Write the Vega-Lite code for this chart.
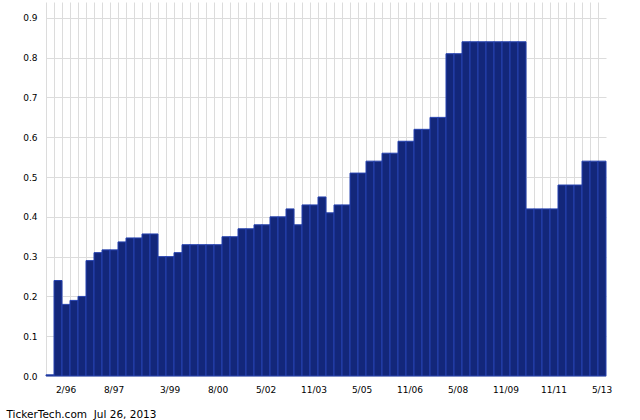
{
  "$schema": "https://vega.github.io/schema/vega-lite/v6.json",
  "width": 560,
  "height": 374,
  "autosize": {"type": "none"},
  "padding": {"left": 46, "top": 2, "right": 34, "bottom": 44},
  "background": "white",
  "config": {"view": {"stroke": null}, "font": "DejaVu Sans"},
  "data": {"values": [
    {"i": 0, "v": 0.003}, {"i": 1, "v": 0.24}, {"i": 2, "v": 0.18}, {"i": 3, "v": 0.19},
    {"i": 4, "v": 0.20}, {"i": 5, "v": 0.29}, {"i": 6, "v": 0.31}, {"i": 7, "v": 0.317},
    {"i": 8, "v": 0.317}, {"i": 9, "v": 0.337}, {"i": 10, "v": 0.347}, {"i": 11, "v": 0.347},
    {"i": 12, "v": 0.357}, {"i": 13, "v": 0.357}, {"i": 14, "v": 0.30}, {"i": 15, "v": 0.30},
    {"i": 16, "v": 0.31}, {"i": 17, "v": 0.33}, {"i": 18, "v": 0.33}, {"i": 19, "v": 0.33},
    {"i": 20, "v": 0.33}, {"i": 21, "v": 0.33}, {"i": 22, "v": 0.35}, {"i": 23, "v": 0.35},
    {"i": 24, "v": 0.37}, {"i": 25, "v": 0.37}, {"i": 26, "v": 0.38}, {"i": 27, "v": 0.38},
    {"i": 28, "v": 0.40}, {"i": 29, "v": 0.40}, {"i": 30, "v": 0.42}, {"i": 31, "v": 0.38},
    {"i": 32, "v": 0.43}, {"i": 33, "v": 0.43}, {"i": 34, "v": 0.45}, {"i": 35, "v": 0.41},
    {"i": 36, "v": 0.43}, {"i": 37, "v": 0.43}, {"i": 38, "v": 0.51}, {"i": 39, "v": 0.51},
    {"i": 40, "v": 0.54}, {"i": 41, "v": 0.54}, {"i": 42, "v": 0.56}, {"i": 43, "v": 0.56},
    {"i": 44, "v": 0.59}, {"i": 45, "v": 0.59}, {"i": 46, "v": 0.62}, {"i": 47, "v": 0.62},
    {"i": 48, "v": 0.65}, {"i": 49, "v": 0.65}, {"i": 50, "v": 0.81}, {"i": 51, "v": 0.81},
    {"i": 52, "v": 0.84}, {"i": 53, "v": 0.84}, {"i": 54, "v": 0.84}, {"i": 55, "v": 0.84},
    {"i": 56, "v": 0.84}, {"i": 57, "v": 0.84}, {"i": 58, "v": 0.84}, {"i": 59, "v": 0.84},
    {"i": 60, "v": 0.42}, {"i": 61, "v": 0.42}, {"i": 62, "v": 0.42}, {"i": 63, "v": 0.42},
    {"i": 64, "v": 0.48}, {"i": 65, "v": 0.48}, {"i": 66, "v": 0.48}, {"i": 67, "v": 0.54},
    {"i": 68, "v": 0.54}, {"i": 69, "v": 0.54}
  ]},
  "mark": {"type": "bar", "fill": "#13277a", "stroke": "#2743b0", "strokeWidth": 1},
  "encoding": {
    "x": {
      "field": "i", "type": "ordinal", "sort": null,
      "scale": {"paddingInner": 0, "paddingOuter": 0},
      "axis": {
        "title": "TickerTech.com\u00a0 Jul 26, 2013",
        "titleX": -40, "titleY": 41.5, "titleAlign": "left", "titleBaseline": "alphabetic",
        "titleFont": "DejaVu Sans", "titleFontSize": 10.5, "titleFontWeight": "normal", "titleColor": "#000000",
        "labelAngle": 0, "labelFont": "DejaVu Sans", "labelFontSize": 9, "labelColor": "#000000",
        "labelPadding": 9, "labelOverlap": false,
        "labelExpr": "({'2':'2/96','8':'8/97','15':'3/99','21':'8/00','27':'5/02','33':'11/03','39':'5/05','45':'11/06','51':'5/08','57':'11/09','63':'11/11','69':'5/13'})[datum.value + ''] || ''",
        "ticks": false, "domain": false,
        "grid": true, "gridColor": "#dcdcdc", "gridWidth": 1, "bandPosition": 0
      }
    },
    "y": {
      "field": "v", "type": "quantitative",
      "scale": {"domain": [0, 0.94], "nice": false},
      "axis": {
        "title": null, "values": [0, 0.1, 0.2, 0.3, 0.4, 0.5, 0.6, 0.7, 0.8, 0.9],
        "format": ".1f", "labelFont": "DejaVu Sans", "labelFontSize": 9, "labelColor": "#000000",
        "labelPadding": 9, "ticks": false, "domain": false,
        "grid": true, "gridColor": "#dcdcdc", "gridWidth": 1
      }
    }
  }
}
